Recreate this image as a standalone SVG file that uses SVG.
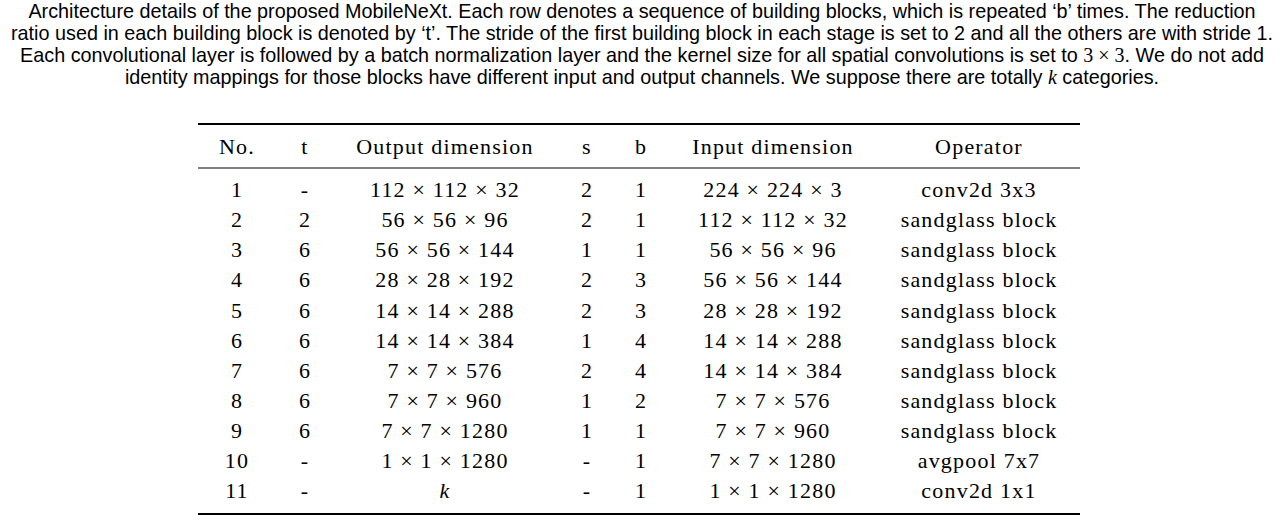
<svg xmlns="http://www.w3.org/2000/svg" width="1284" height="523" viewBox="0 0 1284 523">
<style>
.cap{font-family:"Liberation Sans",Arial,sans-serif;font-size:19.8px;fill:#000;text-anchor:middle}
.m{font-family:"Liberation Serif","Times New Roman",serif;font-size:20px}
.t{font-family:"Liberation Serif","Times New Roman",serif;font-size:22px;letter-spacing:1.2px;fill:#000;text-anchor:middle}
.r{stroke:#000}
</style>
<rect width="1284" height="523" fill="#fff"/>
<text class="cap" x="642" y="18">Architecture details of the proposed MobileNeXt. Each row denotes a sequence of building blocks, which is repeated ‘b’ times. The reduction</text>
<text class="cap" x="642" y="40">ratio used in each building block is denoted by ‘t’. The stride of the first building block in each stage is set to 2 and all the others are with stride 1.</text>
<text class="cap" x="642" y="62">Each convolutional layer is followed by a batch normalization layer and the kernel size for all spatial convolutions is set to <tspan class="m">3 × 3</tspan>. We do not add</text>
<text class="cap" x="642" y="84">identity mappings for those blocks have different input and output channels. We suppose there are totally <tspan class="m" font-style="italic">k</tspan> categories.</text>
<line class="r" x1="198" y1="124" x2="1080" y2="124" stroke-width="2"/>
<line class="r" x1="198" y1="168" x2="1080" y2="168" stroke-width="1.2"/>
<line class="r" x1="198" y1="514" x2="1080" y2="514" stroke-width="2"/>
<g class="t">
<text x="237" y="154">No.</text><text x="305" y="154">t</text><text x="445" y="154">Output dimension</text><text x="587" y="154">s</text><text x="641" y="154">b</text><text x="773" y="154">Input dimension</text><text x="979" y="154">Operator</text>
</g>
<g class="t">
<text x="237" y="197">1</text><text x="305" y="197">-</text><text x="445" y="197">112 × 112 × 32</text><text x="587" y="197">2</text><text x="641" y="197">1</text><text x="773" y="197">224 × 224 × 3</text><text x="979" y="197">conv2d 3x3</text>
<text x="237" y="227">2</text><text x="305" y="227">2</text><text x="445" y="227">56 × 56 × 96</text><text x="587" y="227">2</text><text x="641" y="227">1</text><text x="773" y="227">112 × 112 × 32</text><text x="979" y="227">sandglass block</text>
<text x="237" y="257">3</text><text x="305" y="257">6</text><text x="445" y="257">56 × 56 × 144</text><text x="587" y="257">1</text><text x="641" y="257">1</text><text x="773" y="257">56 × 56 × 96</text><text x="979" y="257">sandglass block</text>
<text x="237" y="287">4</text><text x="305" y="287">6</text><text x="445" y="287">28 × 28 × 192</text><text x="587" y="287">2</text><text x="641" y="287">3</text><text x="773" y="287">56 × 56 × 144</text><text x="979" y="287">sandglass block</text>
<text x="237" y="318">5</text><text x="305" y="318">6</text><text x="445" y="318">14 × 14 × 288</text><text x="587" y="318">2</text><text x="641" y="318">3</text><text x="773" y="318">28 × 28 × 192</text><text x="979" y="318">sandglass block</text>
<text x="237" y="348">6</text><text x="305" y="348">6</text><text x="445" y="348">14 × 14 × 384</text><text x="587" y="348">1</text><text x="641" y="348">4</text><text x="773" y="348">14 × 14 × 288</text><text x="979" y="348">sandglass block</text>
<text x="237" y="378">7</text><text x="305" y="378">6</text><text x="445" y="378">7 × 7 × 576</text><text x="587" y="378">2</text><text x="641" y="378">4</text><text x="773" y="378">14 × 14 × 384</text><text x="979" y="378">sandglass block</text>
<text x="237" y="408">8</text><text x="305" y="408">6</text><text x="445" y="408">7 × 7 × 960</text><text x="587" y="408">1</text><text x="641" y="408">2</text><text x="773" y="408">7 × 7 × 576</text><text x="979" y="408">sandglass block</text>
<text x="237" y="438">9</text><text x="305" y="438">6</text><text x="445" y="438">7 × 7 × 1280</text><text x="587" y="438">1</text><text x="641" y="438">1</text><text x="773" y="438">7 × 7 × 960</text><text x="979" y="438">sandglass block</text>
<text x="237" y="468">10</text><text x="305" y="468">-</text><text x="445" y="468">1 × 1 × 1280</text><text x="587" y="468">-</text><text x="641" y="468">1</text><text x="773" y="468">7 × 7 × 1280</text><text x="979" y="468">avgpool 7x7</text>
<text x="237" y="498">11</text><text x="305" y="498">-</text><text x="445" y="498" font-style="italic">k</text><text x="587" y="498">-</text><text x="641" y="498">1</text><text x="773" y="498">1 × 1 × 1280</text><text x="979" y="498">conv2d 1x1</text>
</g>
</svg>
